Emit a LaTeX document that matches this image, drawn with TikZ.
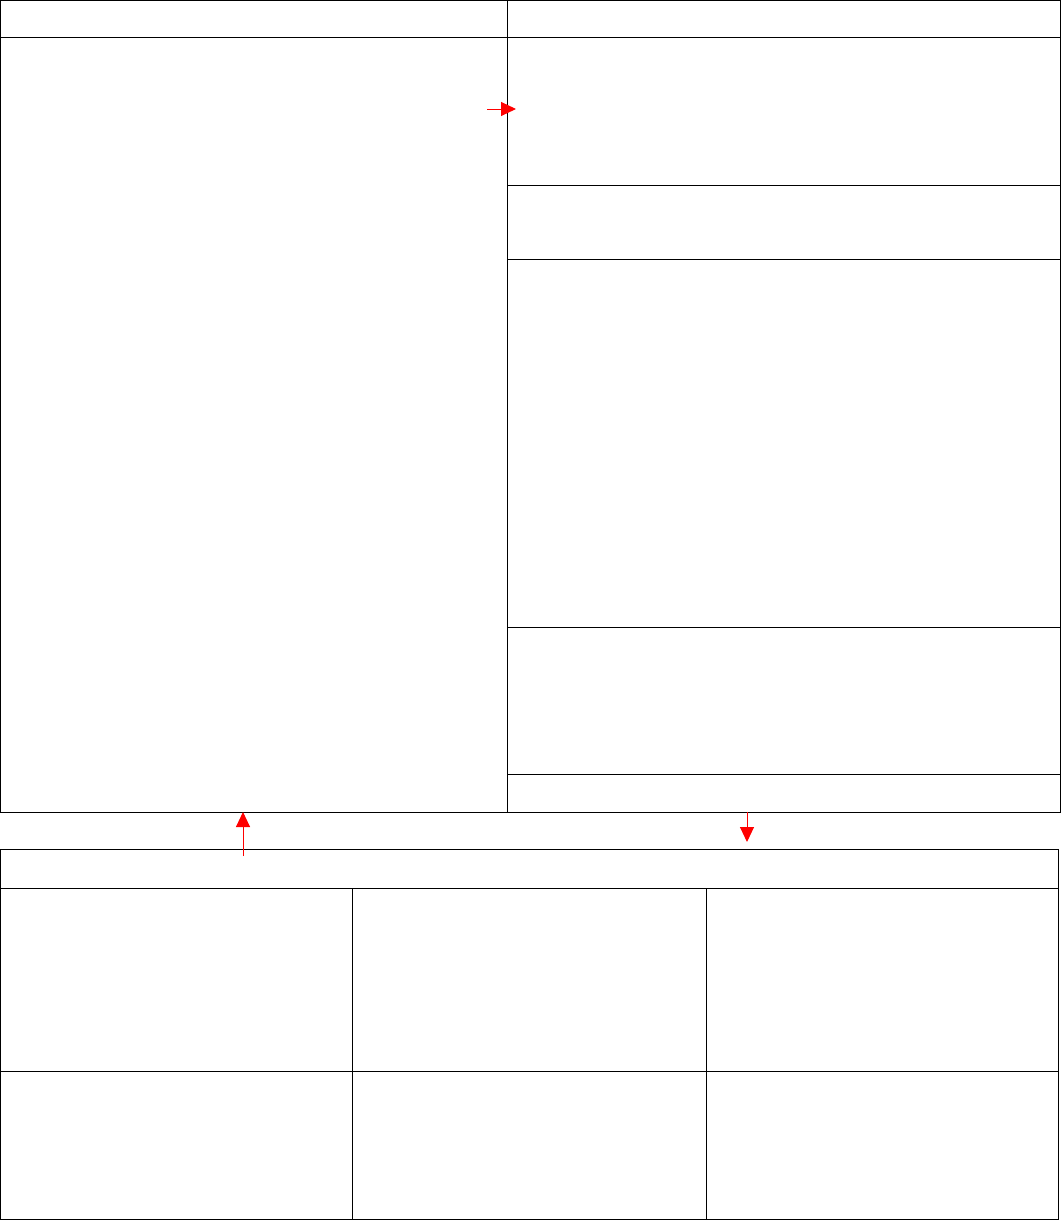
\documentclass[tikz,border=0pt]{standalone}
\usetikzlibrary{arrows.meta}
\begin{document}
\begin{tikzpicture}[x=0.02cm, y=-0.02cm,
  cell/.style={draw, line width=0.75pt, inner sep=0pt, anchor=north west},
  flow/.style={red, line width=0.55pt, -{Triangle[length=0.3cm, width=0.28cm]}}]
	\useasboundingbox (0,0) rectangle (1061,1220);
	% upper table
	\node[cell, minimum width=507*0.02cm, minimum height=37*0.02cm] (HL) at (0,0) {};
	\node[cell, minimum width=553*0.02cm, minimum height=37*0.02cm] (HR) at (507,0) {};
	\node[cell, minimum width=507*0.02cm, minimum height=775*0.02cm] (L) at (0,37) {};
	\node[cell, minimum width=553*0.02cm, minimum height=148*0.02cm] (R1) at (507,37) {};
	\node[cell, minimum width=553*0.02cm, minimum height=74*0.02cm] (R2) at (507,185) {};
	\node[cell, minimum width=553*0.02cm, minimum height=368*0.02cm] (R3) at (507,259) {};
	\node[cell, minimum width=553*0.02cm, minimum height=147*0.02cm] (R4) at (507,627) {};
	\node[cell, minimum width=553*0.02cm, minimum height=38*0.02cm] (R5) at (507,774) {};
	% lower table
	\node[cell, minimum width=1058*0.02cm, minimum height=39*0.02cm] (BH) at (0,849) {};
	\node[cell, minimum width=352*0.02cm, minimum height=183*0.02cm] (B11) at (0,888) {};
	\node[cell, minimum width=354*0.02cm, minimum height=183*0.02cm] (B12) at (352,888) {};
	\node[cell, minimum width=352*0.02cm, minimum height=183*0.02cm] (B13) at (706,888) {};
	\node[cell, minimum width=352*0.02cm, minimum height=148*0.02cm] (B21) at (0,1071) {};
	\node[cell, minimum width=354*0.02cm, minimum height=148*0.02cm] (B22) at (352,1071) {};
	\node[cell, minimum width=352*0.02cm, minimum height=148*0.02cm] (B23) at (706,1071) {};
	% arrows
	\coordinate (a1) at (487,109);
	\coordinate (a2) at (516,109);
	\coordinate (u1) at (243,856);
	\coordinate (u2) at (243,812);
	\coordinate (d1) at (747,812);
	\coordinate (d2) at (747,842);
	\draw[flow] (a1) -- (a2);
	\draw[flow] (u1) -- (u2);
	\draw[flow] (d1) -- (d2);
\end{tikzpicture}
\end{document}
